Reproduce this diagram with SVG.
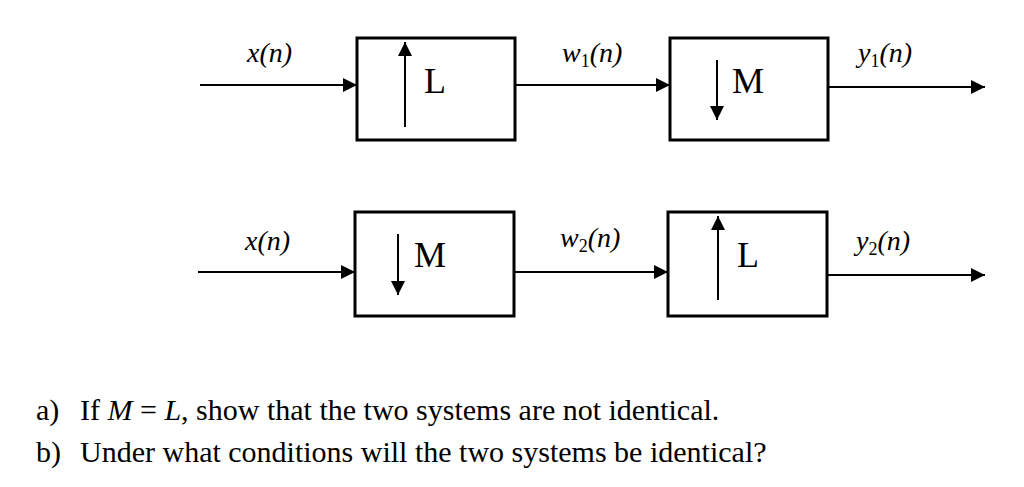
<svg xmlns="http://www.w3.org/2000/svg" width="1024" height="487" viewBox="0 0 1024 487">
<style>
.box{fill:#fff;stroke:#000;stroke-width:3}
.ln{stroke:#000;stroke-width:2;fill:none}
.m{font-family:"Liberation Serif",serif;font-style:italic;font-size:28px}
.t{font-family:"Liberation Serif",serif;font-size:36px}
.q{font-family:"Liberation Serif",serif;font-size:30px}
</style>
<defs>
<marker id="b" viewBox="0 0 10 10" refX="10" refY="5" markerWidth="18" markerHeight="14" orient="auto" markerUnits="userSpaceOnUse"><path d="M0,0L10,5L0,10z"/></marker></defs>
<g id="connectors">
<line class="ln" x1="200" y1="85" x2="357" y2="85" marker-end="url(#b)"/>
<line class="ln" x1="516" y1="85" x2="670" y2="85" marker-end="url(#b)"/>
<line class="ln" x1="829" y1="87" x2="985" y2="87" marker-end="url(#b)"/>
<line class="ln" x1="198" y1="272" x2="355" y2="272" marker-end="url(#b)"/>
<line class="ln" x1="514" y1="272" x2="668" y2="272" marker-end="url(#b)"/>
<line class="ln" x1="827" y1="275" x2="985" y2="275" marker-end="url(#b)"/>
</g>
<g id="up1"><rect class="box" x="357" y="38" width="158" height="102"/><line class="ln" x1="405" y1="127" x2="405" y2="42" stroke-width="3" marker-end="url(#b)"/><text class="t" x="424" y="93">L</text></g>
<g id="down1"><rect class="box" x="670" y="38" width="158" height="102"/><line class="ln" x1="717" y1="60" x2="717" y2="120" stroke-width="3" marker-end="url(#b)"/><text class="t" x="732" y="93">M</text></g>
<g id="down2"><rect class="box" x="355" y="212" width="159" height="104"/><line class="ln" x1="398" y1="234" x2="398" y2="295" stroke-width="3" marker-end="url(#b)"/><text class="t" x="414" y="267">M</text></g>
<g id="up2"><rect class="box" x="668" y="212" width="159" height="104"/><line class="ln" x1="718" y1="300" x2="718" y2="216" stroke-width="3" marker-end="url(#b)"/><text class="t" x="737" y="267">L</text></g>
<g id="labels">
<text class="m" x="247" y="62">x(n)</text>
<text class="m" x="562" y="62">w<tspan font-size="18" font-style="normal" dy="5">1</tspan><tspan dy="-5">(n)</tspan></text>
<text class="m" x="858" y="62">y<tspan font-size="18" font-style="normal" dy="5">1</tspan><tspan dy="-5">(n)</tspan></text>
<text class="m" x="245" y="250">x(n)</text>
<text class="m" x="560" y="247">w<tspan font-size="18" font-style="normal" dy="5">2</tspan><tspan dy="-5">(n)</tspan></text>
<text class="m" x="856" y="250">y<tspan font-size="18" font-style="normal" dy="5">2</tspan><tspan dy="-5">(n)</tspan></text>
<text class="q" x="36" y="420">a)</text>
<text class="q" x="80" y="420">If <tspan font-style="italic">M</tspan>  =  <tspan font-style="italic">L</tspan>, show that the two systems are not identical.</text>
<text class="q" x="36" y="462">b)</text>
<text class="q" x="80" y="462">Under what conditions will the two systems be identical?</text>
</g>
</svg>
